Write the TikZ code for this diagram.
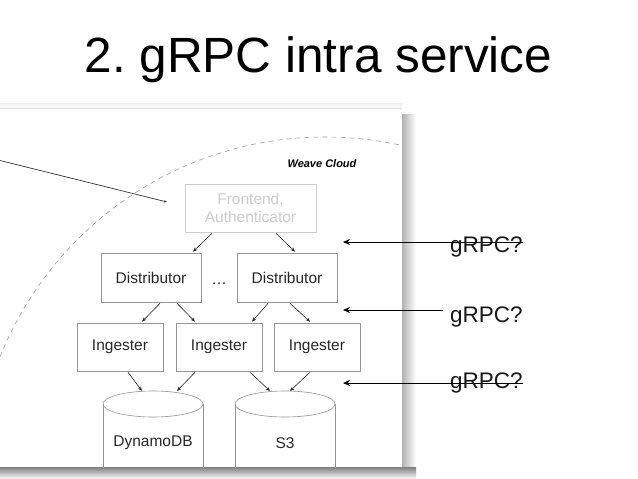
\documentclass[tikz,border=0pt]{standalone}
\usepackage{fontspec}
\setmainfont{Liberation Sans}
\usetikzlibrary{arrows.meta}
\definecolor{boxgray}{RGB}{150,150,150}
\definecolor{txtgray}{RGB}{40,40,40}
\definecolor{fegray}{RGB}{205,205,205}
\definecolor{dashgray}{RGB}{160,160,160}
\frenchspacing
\begin{document}
\begin{tikzpicture}[x=1pt,y=-1pt,
  box/.style={draw=boxgray, line width=0.6pt, text=txtgray, font=\fontsize{15.5}{18.5}\selectfont, inner sep=0pt, minimum height=48pt, align=center},
  arr/.style={-{Stealth[length=4.5pt,width=3.5pt]}, line width=0.6pt, draw=black!85},
  bigarr/.style={-{Stealth[length=7pt,width=6pt]}, line width=0.9pt, draw=black},
  cyl/.style={draw=boxgray, line width=0.6pt},
  grpc/.style={font=\fontsize{22.5}{26}\selectfont, anchor=base west, inner sep=0pt, text=black!90}]
\useasboundingbox (0,0) rectangle (638,479);
% title
\node[font=\fontsize{49.5}{58}\selectfont, anchor=base, inner sep=0pt] (title) at (318.5,72) {2. gRPC intra service};
% panel shadows
\shade[top color=black!6, bottom color=white] (0,103) rectangle (402,109);
\shade[left color=black!30, right color=white] (402,114) rectangle (416,479);
\shade[top color=black!50, bottom color=white] (0,467) rectangle (416,479);
\fill[white] (0,108) rectangle (402,467);
\draw[black!12, line width=0.5pt] (0,108) -- (402,108);
% clipped content
\begin{scope}
\clip (0,108) rectangle (402,467);
\draw[dashgray, dashed, dash pattern=on 5pt off 4pt, line width=0.6pt] (325,487) circle (350);
\coordinate (db1) at (153,404);
\coordinate (db2) at (285,404);
\draw[cyl] (db1) ellipse [x radius=50, y radius=13];
\draw[cyl] ([shift={(-50,0)}]db1) -- ++(0,70);
\draw[cyl] ([shift={(50,0)}]db1) -- ++(0,70);
\draw[cyl] (db2) ellipse [x radius=50, y radius=13];
\draw[cyl] ([shift={(-50,0)}]db2) -- ++(0,70);
\draw[cyl] ([shift={(50,0)}]db2) -- ++(0,70);
\end{scope}
\node[font=\fontsize{15.5}{18.5}\selectfont, text=txtgray] (dbl1) at (153,443) {DynamoDB};
\node[font=\fontsize{15.5}{18.5}\selectfont, text=txtgray] (dbl2) at (285,443) {S3};
% weave cloud label
\node[font=\bfseries\itshape\fontsize{11}{13}\selectfont, anchor=base, inner sep=0pt] (wc) at (322,167) {Weave Cloud};
% boxes
\node[box, draw=fegray, text=fegray, minimum width=131pt] (fe) at (250.5,208) {Frontend,\\Authenticator};
\node[box, minimum width=100pt, minimum height=49pt] (d1) at (151,277.5) {Distributor};
\node[box, minimum width=100pt, minimum height=49pt] (d2) at (287,277.5) {Distributor};
\node[text=txtgray, font=\fontsize{15.5}{18.5}\selectfont, anchor=base, inner sep=0pt] (dots) at (219,284) {…};
\node[box, minimum width=86pt] (i1) at (120,347) {Ingester};
\node[box, minimum width=86pt] (i2) at (219,347) {Ingester};
\node[box, minimum width=86pt] (i3) at (317,347) {Ingester};
% incoming line
\coordinate (src) at (-2,160);
\coordinate (tgt) at (167,202);
\draw[-{Stealth[length=3pt,width=2.5pt]}, line width=0.7pt, draw=black!80] (src) -- (tgt);
% arrows
\draw[arr] ([shift={(-38.5,1)}]fe.south) -- ([shift={(42,-1)}]d1.north);
\draw[arr] ([shift={(25.5,1)}]fe.south) -- ([shift={(8,-1)}]d2.north);
\draw[arr] ([shift={(9,1)}]d1.south) -- ([shift={(22,-1)}]i1.north);
\draw[arr] ([shift={(26,1)}]d1.south) -- ([shift={(-24,-1)}]i2.north);
\draw[arr] ([shift={(-19,1)}]d2.south) -- ([shift={(33,-1)}]i2.north);
\draw[arr] ([shift={(3,1)}]d2.south) -- ([shift={(-7,-1)}]i3.north);
\draw[arr] ([shift={(8,1)}]i1.south) -- ([shift={(-11,-13)}]db1);
\draw[arr] ([shift={(-24,1)}]i2.south) -- ([shift={(24,-13)}]db1);
\draw[arr] ([shift={(31,1)}]i2.south) -- ([shift={(-15,-13)}]db2);
\draw[arr] ([shift={(-7,1)}]i3.south) -- ([shift={(5,-13)}]db2);
% gRPC labels and arrows
\node[grpc] (g1) at (450,252) {gRPC?};
\node[grpc] (g2) at (450,322) {gRPC?};
\node[grpc] (g3) at (450,388) {gRPC?};
\coordinate (g1e) at (343,242);
\coordinate (g2e) at (343,310);
\coordinate (g3e) at (343,383);
\draw[bigarr] (g1.east |- g1e) -- (g1e);
\draw[bigarr] ([xshift=-7pt]g2.west |- g2e) -- (g2e);
\draw[bigarr] (g3.east |- g3e) -- (g3e);
\end{tikzpicture}
\end{document}
